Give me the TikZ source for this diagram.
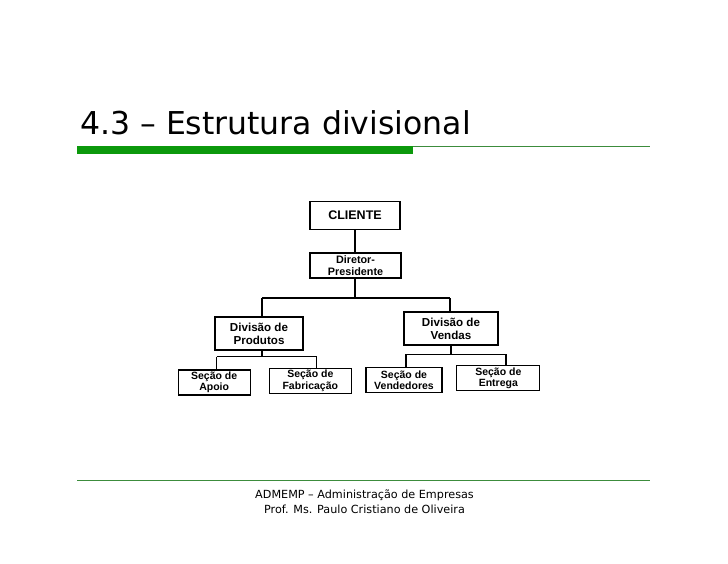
\documentclass[tikz,border=0pt]{standalone}
\usepackage{fontspec}
\setmainfont{DejaVu Sans}
\newfontfamily\arialfont{Liberation Sans}
\usepackage{xcolor}
\usetikzlibrary{positioning}
\definecolor{barGreen}{HTML}{0C990C}
\definecolor{lineGreen}{HTML}{3C8C3C}

\begin{document}
\begin{tikzpicture}[
    x=1pt, y=-1pt,
    orgbox/.style={draw=black, line width=1.3pt, rectangle, inner sep=1pt, align=center, font=\arialfont\bfseries\fontsize{10.5}{11.5}\selectfont},
    divbox/.style={orgbox, font=\arialfont\bfseries\fontsize{11.6}{13}\selectfont},
    link/.style={line width=1.2pt}
]
\useasboundingbox (0,0) rectangle (728,563);
% title
\node[anchor=base west, inner sep=0pt, font=\fontsize{31.5}{34}\selectfont] (title) at (80,134) {4.3 – Estrutura divisional};
\fill[barGreen] (77,146) rectangle (413,154);
\draw[lineGreen, line width=0.8pt] (413,146.5) -- (650,146.5);
% org chart
\node[orgbox, minimum width=90, minimum height=28, font=\arialfont\bfseries\fontsize{12.5}{13}\selectfont] (cli) at (355,215.5) {CLIENTE};
\node[orgbox, minimum width=91, minimum height=25, font=\arialfont\bfseries\fontsize{10.8}{11.5}\selectfont] (dir) at (355.5,265.5) {Diretor-\\Presidente};
\node[divbox, minimum width=88, minimum height=33] (prod) at (259,333.5) {Divisão de\\Produtos};
\node[divbox, minimum width=94, minimum height=33] (vend) at (451,328.5) {Divisão de\\Vendas};
\node[orgbox, minimum width=72, minimum height=25] (apoio) at (214.2,382.5) {Seção de\\Apoio};
\node[orgbox, minimum width=82, minimum height=25] (fabr) at (310.3,381) {Seção de\\Fabricação};
\node[orgbox, minimum width=76, minimum height=25] (vendd) at (404,380) {Seção de\\Vendedores};
\node[orgbox, minimum width=83, minimum height=25] (entr) at (498.3,378.3) {Seção de\\Entrega};
% connectors
\coordinate (c1) at (355,229);
\draw[link] (c1 |- cli.south) -- (c1 |- dir.north);
\coordinate (b1) at (355,298);
\coordinate (bl) at (262,298);
\coordinate (br) at (450,298);
\draw[link] (b1 |- dir.south) -- (b1);
\draw[link] (bl) -- (br);
\draw[link] (bl) -- (bl |- prod.north);
\draw[link] (br) -- (br |- vend.north);
\coordinate (p1) at (262,356.7);
\coordinate (pl) at (216.7,356.7);
\coordinate (pr) at (316.7,356.7);
\draw[link] (p1 |- prod.south) -- (p1);
\draw[link] (pl) -- (pr);
\draw[link] (pl) -- (pl |- apoio.north);
\draw[link] (pr) -- (pr |- fabr.north);
\coordinate (v1) at (451,354.3);
\coordinate (vl) at (406,354.3);
\coordinate (vr) at (506,354.3);
\draw[link] (v1 |- vend.south) -- (v1);
\draw[link] (vl) -- (vr);
\draw[link] (vl) -- (vl |- vendd.north);
\draw[link] (vr) -- (vr |- entr.north);
% footer
\draw[lineGreen, line width=0.8pt] (77,480) -- (650,480);
\node[align=center, inner sep=0pt, font=\fontsize{11.2}{15}\selectfont] (foot) at (364.5,501.5) {ADMEMP – Administração de Empresas\\Prof. Ms. Paulo Cristiano de Oliveira};
\end{tikzpicture}
\end{document}
